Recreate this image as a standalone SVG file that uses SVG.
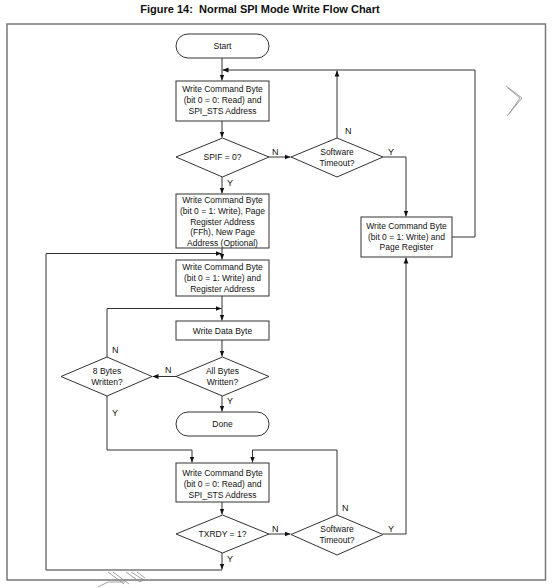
<svg xmlns="http://www.w3.org/2000/svg" width="554" height="588" viewBox="0 0 554 588">
<style>
text{font-family:"Liberation Sans",Arial,sans-serif;font-size:8.5px;fill:#111;text-anchor:middle}
.title{font-size:11px;font-weight:bold;white-space:pre}
.lbl{text-anchor:start;font-size:9px}
.shape{fill:#fff;stroke:#333;stroke-width:1}
.c{fill:none;stroke:#333;stroke-width:1}
.art{fill:none;stroke:#888;stroke-width:0.8}
</style>
<defs>
<marker id="ah" viewBox="0 0 6 6" refX="6" refY="3" markerWidth="6" markerHeight="6" markerUnits="userSpaceOnUse" orient="auto">
<path d="M0,0.6 L6,3 L0,5.4 Z" fill="#111"/>
</marker>
</defs>
<rect width="554" height="588" fill="#fff"/>
<text class="title" x="260" y="13" xml:space="preserve">Figure 14:  Normal SPI Mode Write Flow Chart</text>
<rect x="7" y="24" width="538.5" height="556" fill="none" stroke="#777" stroke-width="1.5"/>

<g id="connectors">
<path class="c" d="M222,58 V80.5" marker-end="url(#ah)"/>
<path class="c" d="M475,70 H222.5" marker-end="url(#ah)"/>
<path class="c" d="M452,237 H475 V70"/>
<path class="c" d="M337,138 V70.5" marker-end="url(#ah)"/>
<path class="c" d="M222,121 V137.5" marker-end="url(#ah)"/>
<path class="c" d="M269,157 H290.5" marker-end="url(#ah)"/>
<path class="c" d="M383,157 H406 V216.5" marker-end="url(#ah)"/>
<path class="c" d="M222,177 V193.5" marker-end="url(#ah)"/>
<path class="c" d="M222,248 V259.5" marker-end="url(#ah)"/>
<path class="c" d="M46,570 V253.5 H221.5" marker-end="url(#ah)"/>
<path class="c" d="M222,296 V320.5" marker-end="url(#ah)"/>
<path class="c" d="M107,357 V308.5 H221.5" marker-end="url(#ah)"/>
<path class="c" d="M222,340 V356.5" marker-end="url(#ah)"/>
<path class="c" d="M176,376.5 H152.5" marker-end="url(#ah)"/>
<path class="c" d="M222,396 V411.5" marker-end="url(#ah)"/>
<path class="c" d="M107,396 V450 H192 V462.5" marker-end="url(#ah)"/>
<path class="c" d="M337,515 V450 H252.5 V462.5" marker-end="url(#ah)"/>
<path class="c" d="M222,502 V514.5" marker-end="url(#ah)"/>
<path class="c" d="M269,534 H290.5" marker-end="url(#ah)"/>
<path class="c" d="M383,534 H406 V257.5" marker-end="url(#ah)"/>
<path class="c" d="M222,553 V569.5" marker-end="url(#ah)"/>
<path class="c" d="M222,570 H46"/>
</g>

<g id="start">
<rect class="shape" x="176" y="34" width="93" height="24" rx="12"/>
<text x="222.5" y="49">Start</text>
</g>
<g id="cmd-read-1">
<rect class="shape" x="176" y="81" width="93" height="40"/>
<text x="222.5" y="92">Write Command Byte</text>
<text x="222.5" y="103">(bit 0 = 0: Read) and</text>
<text x="222.5" y="114">SPI_STS Address</text>
</g>
<g id="spif">
<polygon class="shape" points="222.5,138 269,157 222.5,177 176,157"/>
<text x="222.5" y="160">SPIF = 0?</text>
</g>
<g id="timeout-1">
<polygon class="shape" points="337,138 383,157 337,177 291,157"/>
<text x="337" y="155">Software</text>
<text x="337" y="166">Timeout?</text>
</g>
<g id="page-reg">
<rect class="shape" x="361" y="217" width="91" height="40"/>
<text x="406.5" y="229">Write Command Byte</text>
<text x="406.5" y="240">(bit 0 = 1: Write) and</text>
<text x="406.5" y="250">Page Register</text>
</g>
<g id="cmd-page">
<rect class="shape" x="176" y="194" width="93" height="54"/>
<text x="222.5" y="203">Write Command Byte</text>
<text x="222.5" y="214">(bit 0 = 1: Write), Page</text>
<text x="222.5" y="224.5">Register Address</text>
<text x="222.5" y="235">(FFh), New Page</text>
<text x="222.5" y="245.5">Address (Optional)</text>
</g>
<g id="cmd-reg">
<rect class="shape" x="176" y="260" width="93" height="36"/>
<text x="222.5" y="270">Write Command Byte</text>
<text x="222.5" y="281">(bit 0 = 1: Write) and</text>
<text x="222.5" y="291.5">Register Address</text>
</g>
<g id="data-byte">
<rect class="shape" x="176" y="321" width="93" height="19"/>
<text x="222.5" y="333.5">Write Data Byte</text>
</g>
<g id="all-bytes">
<polygon class="shape" points="222.5,357 269,376.5 222.5,396 176,376.5"/>
<text x="222.5" y="374">All Bytes</text>
<text x="222.5" y="384.5">Written?</text>
</g>
<g id="eight-bytes">
<polygon class="shape" points="107,357 152,376.5 107,396 61,376.5"/>
<text x="107" y="374">8 Bytes</text>
<text x="107" y="384.5">Written?</text>
</g>
<g id="done">
<rect class="shape" x="176" y="412" width="93" height="24" rx="12"/>
<text x="222.5" y="427">Done</text>
</g>
<g id="cmd-read-2">
<rect class="shape" x="176" y="463" width="93" height="39"/>
<text x="222.5" y="476">Write Command Byte</text>
<text x="222.5" y="487">(bit 0 = 0: Read) and</text>
<text x="222.5" y="497.5">SPI_STS Address</text>
</g>
<g id="txrdy">
<polygon class="shape" points="222.5,515 269,534 222.5,553 176,534"/>
<text x="222.5" y="537">TXRDY = 1?</text>
</g>
<g id="timeout-2">
<polygon class="shape" points="337,515 383,534.5 337,555 291,534.5"/>
<text x="337" y="532">Software</text>
<text x="337" y="543">Timeout?</text>
</g>

<g id="labels">
<text class="lbl" x="345" y="134">N</text>
<text class="lbl" x="272" y="155">N</text>
<text class="lbl" x="388" y="155">Y</text>
<text class="lbl" x="227" y="186">Y</text>
<text class="lbl" x="112" y="353">N</text>
<text class="lbl" x="165" y="373">N</text>
<text class="lbl" x="112" y="416">Y</text>
<text class="lbl" x="227" y="404">Y</text>
<text class="lbl" x="342" y="511">N</text>
<text class="lbl" x="272" y="532">N</text>
<text class="lbl" x="388" y="532">Y</text>
<text class="lbl" x="227" y="562">Y</text>
</g>

<g id="artifacts">
<path class="art" d="M506,86 L522,98 L507,116"/>
<path class="art" d="M508,88 L520,98 L509,114"/>
<path class="art" d="M108,572 L124,584 M113,572 L129,584 M126,572 L140,582 L143,580 M131,572 L144,580 M137,572 L145,578 M98,587 L108,582 L125,582"/>
</g>
</svg>
